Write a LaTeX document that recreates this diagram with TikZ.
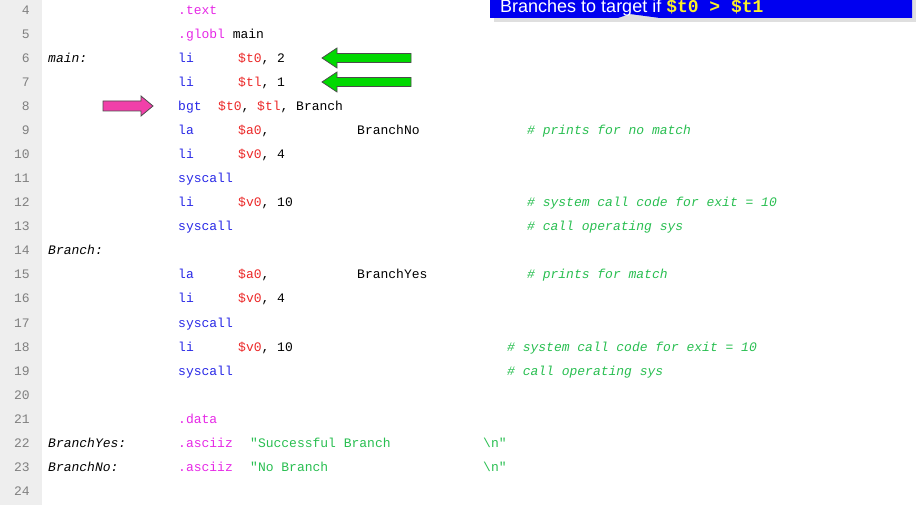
\documentclass[tikz,border=0pt]{standalone}
\usepackage{fontspec}
\setmainfont{Liberation Sans}
\setmonofont{Liberation Mono}
\definecolor{kwblue}{RGB}{40,40,230}
\definecolor{dirmag}{RGB}{230,40,230}
\definecolor{regred}{RGB}{235,40,40}
\definecolor{cmtgreen}{RGB}{40,190,80}
\definecolor{gutter}{RGB}{238,238,238}
\definecolor{callblue}{RGB}{0,0,240}
\definecolor{yel}{RGB}{250,240,40}
\tikzset{
 tok/.style={anchor=base west,inner sep=0pt,font=\ttfamily\fontsize{13}{15}\selectfont},
 lnum/.style={anchor=base east,inner sep=0pt,text=gray,font=\ttfamily\fontsize{13}{15}\selectfont},
 kw/.style={tok,text=kwblue},
 dir/.style={tok,text=dirmag},
 cmt/.style={tok,text=cmtgreen,font=\ttfamily\itshape\fontsize{13}{15}\selectfont},
 lbl/.style={tok,font=\ttfamily\itshape\fontsize{13}{15}\selectfont},
 str/.style={tok,text=cmtgreen},
 garrow/.style={draw=black!70,fill=green!85!black,line width=0.8pt},
 marrow/.style={draw=black!70,fill=magenta!75,line width=0.8pt},
}
\newcommand{\R}[1]{\textcolor{regred}{#1}}
\begin{document}
\begin{tikzpicture}[x=1pt,y=-1pt]
\useasboundingbox (0,0) rectangle (919,505);
\fill[gutter] (0,0) rectangle (42,505);
\foreach \n in {4,...,24}{\node[lnum] (n\n) at (30,{15+24*(\n-4)}) {\n};}
\node[dir] (t4) at (178,15) {.text};
\node[dir] (t5) at (178,39) {.globl \textcolor{black}{main}};
\node[lbl] (l6) at (48,63) {main:};
\node[kw] (c6) at (178,63) {li};
\node[tok] (a6) at (238,63) {\R{\$t0}, 2};
\node[kw] (c7) at (178,87) {li};
\node[tok] (a7) at (238,87) {\R{\$tl}, 1};
\node[kw] (c8) at (178,111) {bgt};
\node[tok] (a8) at (218,111) {\R{\$t0}, \R{\$tl}, Branch};
\node[kw] (c9) at (178,135) {la};
\node[tok] (a9) at (238,135) {\R{\$a0},};
\node[tok] (b9) at (357,135) {BranchNo};
\node[cmt] (m9) at (527,135) {\# prints for no match};
\node[kw] (c10) at (178,159) {li};
\node[tok] (a10) at (238,159) {\R{\$v0}, 4};
\node[kw] (c11) at (178,183) {syscall};
\node[kw] (c12) at (178,207) {li};
\node[tok] (a12) at (238,207) {\R{\$v0}, 10};
\node[cmt] (m12) at (527,207) {\# system call code for exit = 10};
\node[kw] (c13) at (178,231) {syscall};
\node[cmt] (m13) at (527,231) {\# call operating sys};
\node[lbl] (l14) at (48,255) {Branch:};
\node[kw] (c15) at (178,279) {la};
\node[tok] (a15) at (238,279) {\R{\$a0},};
\node[tok] (b15) at (357,279) {BranchYes};
\node[cmt] (m15) at (527,279) {\# prints for match};
\node[kw] (c16) at (178,303) {li};
\node[tok] (a16) at (238,303) {\R{\$v0}, 4};
\node[kw] (c17) at (178,327) {syscall};
\node[kw] (c18) at (178,351) {li};
\node[tok] (a18) at (238,351) {\R{\$v0}, 10};
\node[cmt] (m18) at (507,351) {\# system call code for exit = 10};
\node[kw] (c19) at (178,375) {syscall};
\node[cmt] (m19) at (507,375) {\# call operating sys};
\node[dir] (c21) at (178,423) {.data};
\node[lbl] (l22) at (48,447) {BranchYes:};
\node[dir] (c22) at (178,447) {.asciiz};
\node[str] (s22) at (250,447) {"Successful Branch};
\node[str] (e22) at (483,447) {\textbackslash n"};
\node[lbl] (l23) at (48,471) {BranchNo:};
\node[dir] (c23) at (178,471) {.asciiz};
\node[str] (s23) at (250,471) {"No Branch};
\node[str] (e23) at (483,471) {\textbackslash n"};
% arrows
\foreach \y in {58,82}{
 \draw[garrow] (322,\y) -- (337,\y-10) -- (337,\y-4.5) -- (411,\y-4.5) -- (411,\y+4.5) -- (337,\y+4.5) -- (337,\y+10) -- cycle;}
\draw[marrow] (153,106) -- (141,96) -- (141,101) -- (103,101) -- (103,111) -- (141,111) -- (141,116) -- cycle;
% callout
\fill[gray!25] (494,-10) rectangle (916,22);
\fill[callblue] (490,-12) -- (912,-12) -- (912,18) -- (660,18) -- (630,14) -- (618,18) -- (490,18) -- cycle;
\node[anchor=base west,inner sep=0pt,text=white,font=\fontsize{18}{20}\selectfont] (co) at (500,13)
 {Branches to target if \textcolor{yel}{\ttfamily\bfseries \$t0 > \$t1}};
\end{tikzpicture}
\end{document}
